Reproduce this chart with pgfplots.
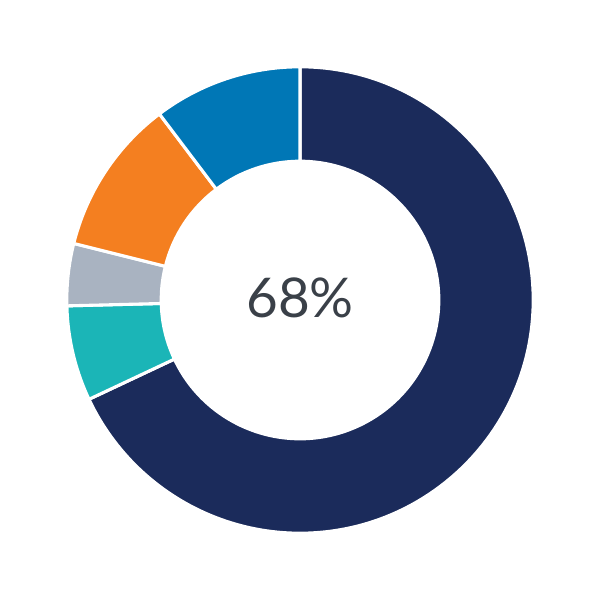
\documentclass[border=0pt]{standalone}
\usepackage{fontspec}
\setmainfont{Lato}
\usepackage{pgfplots}
\pgfplotsset{compat=1.18}
\usepackage{pgfplotstable}
\definecolor{cnavy}{HTML}{1B2B5B}
\definecolor{cteal}{HTML}{1BB5B7}
\definecolor{cgray}{HTML}{A9B3C1}
\definecolor{corange}{HTML}{F47F20}
\definecolor{cblue}{HTML}{0077B6}
\definecolor{ctext}{HTML}{3A4048}
\pgfplotstableread{
value color
68.0 cnavy
6.6 cteal
4.3 cgray
10.8 corange
10.3 cblue
}\donut
\begin{document}
\begin{tikzpicture}
\begin{axis}[
  hide axis, scale only axis,
  width=15cm, height=15cm,
  xmin=-300, xmax=300, ymin=-300, ymax=300,
]
\addplot[draw=none, forget plot] coordinates {(0,0)};
\pgfplotsextra{
  \path (axis cs:-300,-300) rectangle (axis cs:300,300);
  \pgfplotstablegetrowsof{\donut}
  \pgfmathtruncatemacro\n{\pgfplotsretval-1}
  \gdef\cur{90}
  \foreach \i in {0,...,\n}{
    \pgfplotstablegetelem{\i}{value}\of\donut \let\v\pgfplotsretval
    \pgfplotstablegetelem{\i}{color}\of\donut \let\c\pgfplotsretval
    \pgfmathsetmacro\e{\cur-3.6*\v}
    \fill[fill=\c, draw=white, line width=2.2pt, line join=miter, shift={(axis cs:0,0)}]
      (\cur:5.83cm) arc[start angle=\cur, end angle=\e, radius=5.83cm]
      -- (\e:3.47cm) arc[start angle=\e, end angle=\cur, radius=3.47cm] -- cycle;
    \global\let\cur\e
  }
  \node[text=ctext, font=\fontsize{39}{42}\selectfont, inner sep=0pt] at (axis cs:0,2) {68\%};
}
\end{axis}
\end{tikzpicture}
\end{document}
